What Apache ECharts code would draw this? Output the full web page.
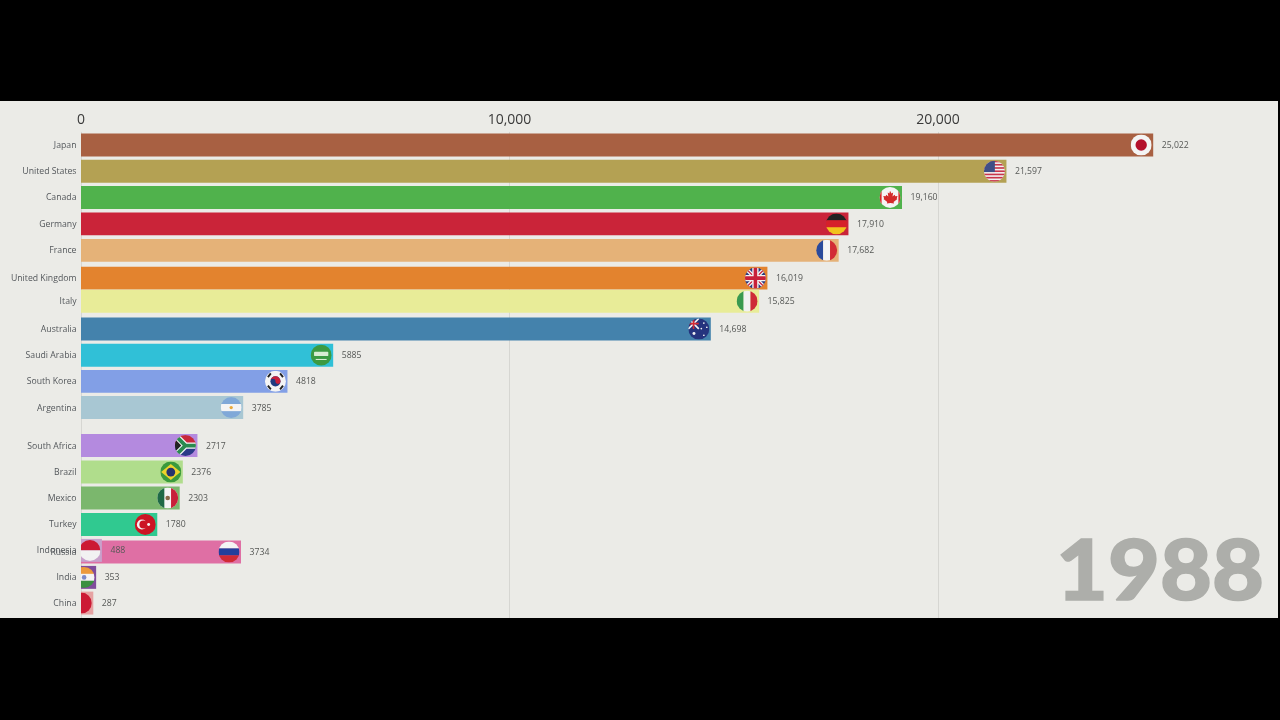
<!DOCTYPE html>
<html>
<head>
<meta charset="utf-8">
<style>
  html, body { margin: 0; height: 100%; background: #000; overflow: hidden; }
  #chart { position: absolute; left: 0; top: 101px; width: 1278px; height: 517px; }
</style>
<script src="https://cdn.jsdelivr.net/npm/echarts@6/dist/echarts.min.js"></script>
</head>
<body>
<div id="chart"></div>
<script>
// GDP per capita race, 1988 frame. Rows are drawn in this order, so later rows overlap earlier ones.
const countries = ['Japan','United States','Canada','Germany','France','United Kingdom','Italy','Australia','Saudi Arabia','South Korea','Argentina','South Africa','Brazil','Mexico','Turkey','Russia','Indonesia','India','China'];
const values = [25022,21597,19160,17910,17682,16019,15825,14698,5885,4818,3785,2717,2376,2303,1780,3734,488,353,287];
// Rows sit at fractional places because the frame is caught mid-reorder.
const rowPlaces = [0,1,2,3.01,4.02,5.08,5.96,7.02,8.02,9.02,10.02,11.47,12.48,13.47,14.48,15.53,15.47,16.5,17.48];
const barColors = ['#a65d3e','#b29f50','#4cb048','#c92035','#e4b075','#e2812a','#e8ec96','#4080aa','#2cbfd6','#7f9de6','#a6c6d2','#b288de','#aedc8a','#78b66a','#2cc88e','#de6ca2','#c7a2cc','#7d489a','#e6a0a0'];
const tickStep = 10000;
const axisMax = 30000;
const yearLabel = '1988';

// Circular flag artwork, 100x100 view box.
const stripesH = (a, b, c) => `<rect width="100" height="34" fill="${a}"/><rect y="33" width="100" height="34" fill="${b}"/><rect y="66" width="100" height="34" fill="${c}"/>`;
const stripesV = (a, b, c) => `<rect width="34" height="100" fill="${a}"/><rect x="33" width="34" height="100" fill="${b}"/><rect x="66" width="34" height="100" fill="${c}"/>`;
const usStripes = [0,2,4,6,8,10,12].map(i => `<rect y="${i * 7.7}" width="100" height="7.7" fill="#c8354a"/>`).join('');
const flagArt = {
  'Japan': '<rect width="100" height="100" fill="#f4f4f4"/><circle cx="50" cy="50" r="27" fill="#b4102c"/>',
  'United States': `<rect width="100" height="100" fill="#f2f2f2"/>${usStripes}<rect width="52" height="54" fill="#3f4f86"/>`,
  'Canada': '<rect width="100" height="100" fill="#f4f4f4"/><rect width="10" height="100" fill="#d42a2a"/><rect x="90" width="10" height="100" fill="#d42a2a"/><path d="M50 18l7 13 8-4-3 19 10-9 3 7 11-1-4 12 3 3-18 14 2 7-17-2-17 2 2-7-18-14 3-3-4-12 11 1 3-7 10 9-3-19 8 4z" fill="#d42a2a"/>',
  'Germany': stripesH('#222222','#d6202a','#f2c21c'),
  'France': stripesV('#2a4a9c','#f4f4f4','#d22b35'),
  'United Kingdom': '<rect width="100" height="100" fill="#2a3a80"/><path d="M0 0L100 100M100 0L0 100" stroke="#f2f2f2" stroke-width="18"/><path d="M0 0L100 100M100 0L0 100" stroke="#c8203a" stroke-width="6"/><path d="M50 0V100M0 50H100" stroke="#f2f2f2" stroke-width="30"/><path d="M50 0V100M0 50H100" stroke="#c8203a" stroke-width="17"/>',
  'Italy': stripesV('#3a9a50','#f2f2f2','#ce2b37'),
  'Australia': '<rect width="100" height="100" fill="#25347e"/><path d="M0 0L50 50M50 0L0 50" stroke="#f2f2f2" stroke-width="8"/><path d="M25 0V50M0 25H50" stroke="#d22b35" stroke-width="8"/><g fill="#f2f2f2"><circle cx="27" cy="72" r="7"/><circle cx="74" cy="22" r="4"/><circle cx="88" cy="42" r="4"/><circle cx="62" cy="48" r="4"/><circle cx="74" cy="80" r="4"/></g>',
  'Saudi Arabia': '<rect width="100" height="100" fill="#3c9a42"/><rect x="16" y="34" width="68" height="20" rx="4" fill="#d8ecd2"/><rect x="24" y="68" width="52" height="5" fill="#d8ecd2"/>',
  'South Korea': '<rect width="100" height="100" fill="#f4f4f4"/><circle cx="50" cy="50" r="24" fill="#1f3a80"/><path d="M26 50a24 24 0 0 1 48 0a12 12 0 0 1-24 0a12 12 0 0 0-24 0z" fill="#c8203a"/><g stroke="#222" stroke-width="9"><path d="M14 30L28 12M86 30L72 12M14 70L28 88M86 70L72 88"/></g>',
  'Argentina': '<rect width="100" height="100" fill="#7fa8d8"/><rect y="33" width="100" height="34" fill="#f4f4f4"/><circle cx="50" cy="50" r="8" fill="#e8a93a"/>',
  'South Africa': '<rect width="100" height="50" fill="#c8283c"/><rect y="50" width="100" height="50" fill="#2a3a88"/><path d="M0 0L50 50L0 100M50 50H100" stroke="#f4f4f4" stroke-width="30" fill="none"/><path d="M0 0L50 50L0 100M50 50H100" stroke="#2a8a50" stroke-width="18" fill="none"/><path d="M0 20L30 50L0 80z" fill="#222"/>',
  'Brazil': '<rect width="100" height="100" fill="#3a9a3c"/><path d="M50 12L96 50L50 88L4 50z" fill="#ecd22c"/><circle cx="50" cy="50" r="21" fill="#27336e"/>',
  'Mexico': '<rect width="100" height="100" fill="#f4f4f4"/><rect width="34" height="100" fill="#1f6a46"/><rect x="66" width="34" height="100" fill="#c8203a"/><circle cx="50" cy="50" r="11" fill="#8a6a4a"/>',
  'Turkey': '<rect width="100" height="100" fill="#cc1424"/><circle cx="34" cy="50" r="24" fill="#f4f4f4"/><circle cx="41" cy="50" r="19" fill="#cc1424"/><circle cx="66" cy="50" r="7" fill="#f4f4f4"/>',
  'Russia': stripesH('#f4f4f4','#243f9c','#d02a35'),
  'Indonesia': '<rect width="100" height="50" fill="#cc1a34"/><rect y="50" width="100" height="50" fill="#f2f2f2"/>',
  'India': stripesH('#ec9a3c','#f4f4f4','#3a9040') + '<circle cx="50" cy="50" r="11" fill="#7c8ac8"/>',
  'China': '<rect width="100" height="100" fill="#cc1a34"/>'
};
const flagUrl = name => 'data:image/svg+xml;charset=utf-8,' + encodeURIComponent(
  `<svg xmlns="http://www.w3.org/2000/svg" width="100" height="100" viewBox="0 0 100 100"><defs><clipPath id="c"><circle cx="50" cy="50" r="50"/></clipPath></defs><g clip-path="url(#c)">${flagArt[name]}</g></svg>`);

const rows = countries.map((name, i) => [values[i], rowPlaces[i], i]);
const labelFont = '"Open Sans", sans-serif';
const formatValue = v => v >= 10000 ? v.toLocaleString('en-US') : String(v);

// Bars, flags and value labels: clipped to the plot so small bars cut the flag at the axis.
function renderBar(params, api) {
  const value = api.value(0);
  const place = api.value(1);
  const i = api.value(2);
  const [xEnd, yMid] = api.coord([value, place]);
  const [xStart] = api.coord([0, place]);
  const barH = api.size([0, 1])[1] * 0.875;
  const flagD = 21;
  return {
    type: 'group',
    children: [
      { type: 'rect',
        shape: { x: xStart, y: yMid - barH / 2, width: xEnd - xStart, height: barH },
        style: { fill: barColors[i], opacity: 0.98 } },
      { type: 'image',
        style: { image: flagUrl(countries[i]), x: xEnd - 12 - flagD / 2, y: yMid - flagD / 2, width: flagD, height: flagD } },
      { type: 'text',
        x: xEnd + 8.5, y: yMid + 0.5,
        style: { text: formatValue(value), fill: '#565856', font: '8.7px ' + labelFont, verticalAlign: 'middle', align: 'left' } }
    ]
  };
}

// Country names to the left of the axis.
function renderName(params, api) {
  const [x, y] = api.coord([0, api.value(1)]);
  return { type: 'text', x: x - 4.5, y: y + 0.5,
    style: { text: countries[api.value(2)], fill: '#53575b', font: '8.7px ' + labelFont, align: 'right', verticalAlign: 'middle' } };
}

const chart = echarts.init(document.getElementById('chart'));
chart.setOption({
  animation: false,
  backgroundColor: '#ebebe7',
  grid: { left: 81, top: 30.9, width: 1285.5, height: 486.1, outerBoundsMode: 'none' },
  xAxis: {
    type: 'value', position: 'top', min: 0, max: axisMax, interval: tickStep,
    axisLine: { show: false }, axisTick: { show: false },
    axisLabel: { color: '#3a3a3a', fontSize: 14, fontFamily: labelFont, margin: 5,
      formatter: v => v.toLocaleString('en-US') },
    splitLine: { show: true, lineStyle: { color: '#d6d6d2', width: 1 } }
  },
  yAxis: { type: 'value', inverse: true, min: -0.5, max: 18.05, show: false },
  series: [
    { type: 'custom', name: 'bars', data: rows, renderItem: renderBar, clip: true,
      encode: { x: 0, y: 1 }, z: 2 },
    { type: 'custom', name: 'names', data: rows, renderItem: renderName, clip: false,
      encode: { x: 0, y: 1 }, z: 3 }
  ],
  graphic: [{
    type: 'text', x: 1056, y: 472.5, scaleX: 1.08,
    style: { text: yearLabel, fill: '#adaeaa', font: '900 83px Lato, sans-serif', stroke: '#adaeaa', lineWidth: 1.5, align: 'left', verticalAlign: 'middle' }
  }]
});
</script>
</body>
</html>
